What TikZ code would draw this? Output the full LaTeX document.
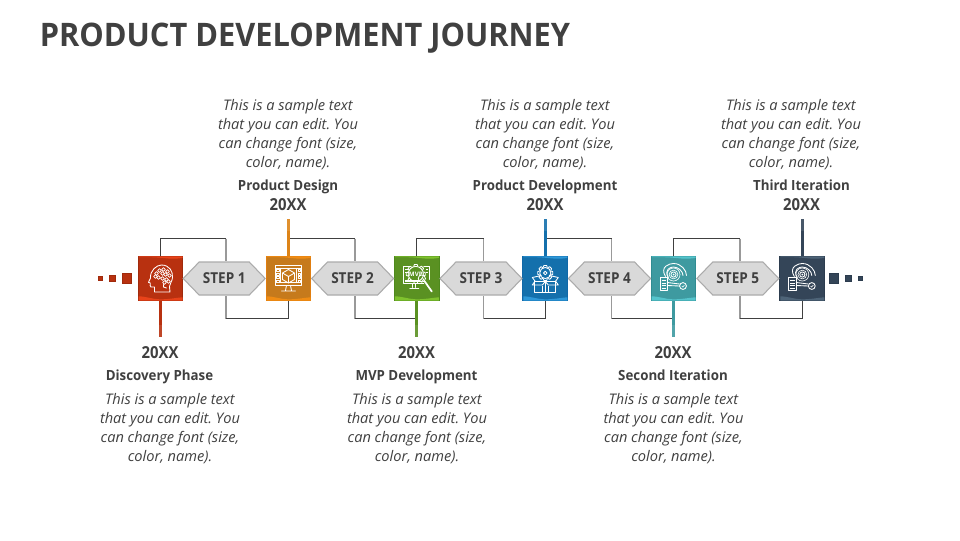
\documentclass[tikz,border=0pt]{standalone}
\usepackage{fontspec}
\setmainfont{Open Sans}
\newfontfamily\wideB[FakeStretch=0.95]{Open Sans}
\newfontfamily\narrowB[FakeStretch=0.90]{Open Sans}
\usetikzlibrary{shapes.symbols}
\definecolor{ink}{HTML}{404040}
\definecolor{cRed}{HTML}{B83110}\definecolor{hRed}{HTML}{E8431A}\definecolor{bRed}{HTML}{A02A0C}
\definecolor{cOr}{HTML}{C67A1C}\definecolor{hOr}{HTML}{F08C14}\definecolor{bOr}{HTML}{E07E10}
\definecolor{cGr}{HTML}{5A9122}\definecolor{hGr}{HTML}{7FC22E}\definecolor{bGr}{HTML}{4E8A1C}
\definecolor{cBl}{HTML}{1470AC}\definecolor{hBl}{HTML}{2E98D8}\definecolor{bBl}{HTML}{1068A8}
\definecolor{cTe}{HTML}{3E9AA0}\definecolor{hTe}{HTML}{55C4CC}\definecolor{bTe}{HTML}{308C92}
\definecolor{cNa}{HTML}{344558}\definecolor{hNa}{HTML}{4E6478}\definecolor{bNa}{HTML}{2C3C4E}
\tikzset{
 x=0.75pt,y=-0.75pt,
 sq/.style={draw=#1,line width=0.75pt,minimum size=33.6pt,inner sep=0pt},
 hexa/.style={signal,signal to=east and west,signal pointer angle=92,draw=black!33,line width=0.8pt,fill=black!15,
   minimum width=61.5pt,minimum height=24.75pt,inner sep=0pt,text=ink,font=\narrowB\fontsize{11.3}{13}\bfseries\selectfont},
 dk/.style={draw=ink,line width=0.9pt},
 gr/.style={draw=black!40,line width=1.1pt},
 stem/.style={line width=2.4pt},
 ic/.style={draw=white,line width=0.65pt,line join=round,line cap=round},
 icthin/.style={draw=white,line width=0.45pt,line join=round},
 body/.style={font=\frenchspacing\fontsize{10.95}{14.25}\itshape\selectfont,align=center,text=ink,inner sep=0pt},
 lab/.style={font=\wideB\fontsize{10.5}{12}\bfseries\selectfont,text=ink,inner sep=0pt,anchor=base},
 yr/.style={font=\narrowB\fontsize{12.4}{14}\bfseries\selectfont,text=ink,inner sep=0pt,anchor=base},
 ttl/.style={font=\wideB\fontsize{24.3}{28}\bfseries\selectfont,text=ink,inner sep=0pt,anchor=base west},
 dot/.style={inner sep=0pt,line width=0.6pt},
}
\newcommand{\smp}{This is a sample text\\that you can edit. You\\can change font (size,\\color, name).}
\newcommand{\steptxt}[1]{\raisebox{-0.7pt}{STEP #1}}
\newcommand{\gearic}[3]{%
 \foreach \a in {0,45,...,315}{\draw[ic,rotate around={\a:(#1,#2)}] (#1-2,#2-#3+1.8) -- (#1-1.4,#2-#3) -- (#1+1.4,#2-#3) -- (#1+2,#2-#3+1.8);}
 \draw[ic] (#1,#2) circle[radius=#3-1.9];}
\newcommand{\iconHead}{%
 \draw[ic] (-6,13.5) -- (-6,8.5) -- (-9.5,8.5) .. controls (-10.5,8.5) and (-10.5,6) .. (-10.2,4.5) -- (-12,3.8) -- (-10,-0.5)
   .. controls (-10.5,-8) and (-4,-13.5) .. (1,-13.5) .. controls (9,-13.5) and (12.5,-7) .. (12,-1) .. controls (11.8,3) and (9,5) .. (9,8) -- (9.5,13.5) -- cycle;
 \foreach \p/\q in {-4/-5,-1/-8,3/-9,7/-7,9/-3,6/1,2/0,-2/-1,2/-5,5/-4,-5/-2,8/3,4/4}{\draw[icthin] (\p,\q) circle[radius=1.9];}
 \draw[ic] (3,6) -- (3,8.5) -- (6,9.5);}
\newcommand{\iconMon}{%
 \draw[ic] (-13.5,-13.5) rectangle (13,7);
 \draw[icthin] (-13.5,-10.5) -- (13,-10.5) (-13.5,4) -- (13,4) (-8,-10.5) -- (-8,4) (8,-10.5) -- (8,4);
 \foreach \q in {-8,-4.5,-1,2.5}{\draw[icthin] (-12,\q-1) rectangle (-9.5,\q+1); \draw[icthin] (9.3,\q-1) rectangle (11.8,\q+1);}
 \draw[ic] (0,-9) -- (6,-5.5) -- (6,1) -- (0,4.5) -- (-6,1) -- (-6,-5.5) -- cycle (-6,-5.5) -- (0,-2) -- (6,-5.5) (0,-2) -- (0,4.5);
 \draw[ic] (-2,7) -- (-3,12) (2,7) -- (3,12) (-7,12.5) -- (7,12.5);}
\newcommand{\iconMvp}{%
 \draw[ic] (-7,-12) -- (-13.5,-12) -- (-13.5,5) -- (7,5) (7,-12) -- (13,-12) -- (13,1);
 \draw[icthin] (-11.5,-9) -- (-8,-9) (-11.5,-6) -- (-9,-6) (9,-9) -- (11,-9) (9,-6) -- (11,-6) (-12,1.5) -- (3,1.5) (-12,3) -- (3,3);
 \gearic{-1}{-4.5}{9.5}
 \node[inner sep=0pt,text=white,font=\fontsize{4.6}{5}\bfseries\selectfont] (mvptxt) at (-1,-4.6) {MVP};
 \draw[ic] (5,0) circle[radius=3.6];
 \draw[line width=1.3pt,draw=white,line cap=round] (8,3) -- (15,13);
 \draw[ic] (-4,5) -- (-4,9) (-1,5) -- (-1,9) (-7,9.5) -- (2,9.5);}
\newcommand{\iconBox}{%
 \gearic{0}{-5.5}{7.5}
 \draw[ic] (0,-5.5) circle[radius=1.8];
 \draw[ic] (-10,3) -- (-13,-1) -- (-4,-3) (10,3) -- (13,-1) -- (4,-3);
 \draw[ic] (-10.5,3) -- (10.5,3) -- (10.5,14) -- (-10.5,14) -- cycle (0,3) -- (0,14);
 \draw[ic] (-10.5,3) -- (-13,6.5) -- (-3,6.5) -- (0,3) -- (3,6.5) -- (13,6.5) -- (10.5,3);
 \draw[icthin] (-3,14) -- (-3,7) (3,14) -- (3,7);}
\newcommand{\iconTarget}{%
 \draw[ic] (-8,-2) .. controls (-14,-12) and (-4,-15) .. (0,-15) .. controls (8,-15) and (13,-8) .. (13,-3);
 \draw[ic] (-5,-1) .. controls (-10,-9) and (-3,-11.5) .. (0,-11.5) .. controls (5,-11.5) and (9.5,-7) .. (9.5,-3);
 \draw[icthin] (0,-4) circle[radius=6.5];
 \draw[icthin] (0,-4) circle[radius=4.4];
 \draw[ic] (0,-4) circle[radius=2.6];
 \fill[white] (0,-4) circle[radius=1];
 \draw[ic] (-13.5,-1) rectangle (-6,11.5);
 \draw[icthin] (-12,2) -- (-7.5,2) (-12,4.5) -- (-7.5,4.5) (-12,7) -- (-7.5,7) (-12,9.5) -- (-7.5,9.5);
 \draw[ic] (-6,4) -- (6,5.5) (-6,7) -- (6,7.5);
 \draw[ic] (9.5,7.5) circle[radius=3.4];
 \draw[icthin] (8.3,7.5) -- (9.3,8.6) -- (11,6.5);}
\newcommand{\stepsq}[6]{%
 \node[sq=#5,fill=#3] (#1) at (#2,278.5) {};
 \begin{scope}[shift={(#2,278.5)}]
  \fill[#4] (-22,-22.2) -- (22,-22.2) -- (22,-20.6) .. controls (12,-18.8) and (4,-20.6) .. (-3,-21) .. controls (-10,-21.4) and (-16,-21.6) .. (-22,-21.4) -- cycle;
  \fill[#4] (-22,22.2) -- (-22,17.8) .. controls (-14,18) and (-8,20.6) .. (-1,20.8) .. controls (8,21) and (14,19.4) .. (22,18.8) -- (22,22.2) -- cycle;
  #6
 \end{scope}}
\begin{document}
\begin{tikzpicture}
\useasboundingbox (0,0) rectangle (960,540);
\fill[white] (0,0) rectangle (960,540);
\node[ttl] (title) at (39.5,46) {PRODUCT DEVELOPMENT JOURNEY};

\coordinate (t1) at (226,238.5);\coordinate (b1) at (226,318.5);
\coordinate (t2) at (355,238.5);\coordinate (b2) at (355,318.5);
\coordinate (t3) at (483.5,238.5);\coordinate (b3) at (483.5,318.5);
\coordinate (t4) at (611.5,238.5);\coordinate (b4) at (611.5,318.5);
\coordinate (t5) at (740,238.5);\coordinate (b5) at (740,318.5);
\coordinate (e1) at (160.5,337);\coordinate (e2) at (288.5,219);
\coordinate (e3) at (416.8,337);\coordinate (e4) at (545.3,219);
\coordinate (e5) at (673.5,337);\coordinate (e6) at (802.3,219);
\coordinate (m1) at (160.5,325);\coordinate (m2) at (288.5,231);
\coordinate (m3) at (416.8,325);\coordinate (m4) at (545.3,231);
\coordinate (m5) at (673.5,325);\coordinate (m6) at (802.3,231);

\stepsq{s1}{160.5}{cRed}{hRed}{bRed}{\iconHead}
\stepsq{s2}{288.5}{cOr}{hOr}{bOr}{\iconMon}
\stepsq{s3}{416.8}{cGr}{hGr}{bGr}{\iconMvp}
\stepsq{s4}{545.3}{cBl}{hBl}{bBl}{\iconBox}
\stepsq{s5}{673.5}{cTe}{hTe}{bTe}{\iconTarget}
\stepsq{s6}{802.3}{cNa}{hNa}{bNa}{\iconTarget}

\node[hexa] (h1) at (224.2,278.5) {\steptxt{1}};
\node[hexa] (h2) at (352.6,278.5) {\steptxt{2}};
\node[hexa] (h3) at (481,278.5) {\steptxt{3}};
\node[hexa] (h4) at (609.5,278.5) {\steptxt{4}};
\node[hexa] (h5) at (737.8,278.5) {\steptxt{5}};

\foreach \i/\j in {1/2,2/3,3/4,4/5,5/6}{
  \draw[gr] (t\i) -- (t\i |- h\i.north);
  \draw[gr] (b\i) -- (b\i |- h\i.south);
  \draw[dk] (s\i.north) |- (t\i);
  \draw[dk] (b\i) -| (s\j.south);
}

\draw[stem,draw=cRed] (s1.south) -- (m1); \draw[stem,draw=cRed!90!white] (m1) -- (e1);
\draw[stem,draw=hOr!55!cOr] (s2.north) -- (m2); \draw[stem,draw=hOr!55!cOr!90!white] (m2) -- (e2);
\draw[stem,draw=cGr] (s3.south) -- (m3); \draw[stem,draw=cGr!90!white] (m3) -- (e3);
\draw[stem,draw=cBl] (s4.north) -- (m4); \draw[stem,draw=cBl!90!white] (m4) -- (e4);
\draw[stem,draw=cTe] (s5.south) -- (m5); \draw[stem,draw=cTe!90!white] (m5) -- (e5);
\draw[stem,draw=cNa] (s6.north) -- (m6); \draw[stem,draw=cNa!90!white] (m6) -- (e6);

\node[dot,draw=bRed,fill=cRed,minimum size=3.4pt] (l1) at (100.5,278.5) {};
\node[dot,draw=bRed,fill=cRed,minimum size=5pt] (l2) at (112.5,278.5) {};
\node[dot,draw=bRed,fill=cRed,minimum size=7pt] (l3) at (127,278.5) {};
\node[dot,draw=bNa,fill=cNa,minimum size=7pt] (r1) at (834,278.5) {};
\node[dot,draw=bNa,fill=cNa,minimum size=5pt] (r2) at (848.5,278.5) {};
\node[dot,draw=bNa,fill=cNa,minimum size=3.4pt] (r3) at (860.5,278.5) {};

\node[body] (d2) at (288,135) {\smp};
\node[lab] (n2) at (288,190.5) {Product Design};
\node[yr] (y2) at (288,210.5) {20XX};
\node[body] (d4) at (545,135) {\smp};
\node[lab] (n4) at (545,190.5) {Product Development};
\node[yr] (y4) at (545,210.5) {20XX};
\node[body] (d6) at (791,135) {\smp};
\node[lab] (n6) at (801.5,190.5) {Third Iteration};
\node[yr] (y6) at (801.5,210.5) {20XX};
\node[yr] (y1) at (160,358.5) {20XX};
\node[lab] (n1) at (159.5,380.5) {Discovery Phase};
\node[body] (d1) at (170,429) {\smp};
\node[yr] (y3) at (416.5,358.5) {20XX};
\node[lab] (n3) at (416.5,380.5) {MVP Development};
\node[body] (d3) at (417,429) {\smp};
\node[yr] (y5) at (673,358.5) {20XX};
\node[lab] (n5) at (673,380.5) {Second Iteration};
\node[body] (d5) at (673.5,429) {\smp};
\end{tikzpicture}
\end{document}
